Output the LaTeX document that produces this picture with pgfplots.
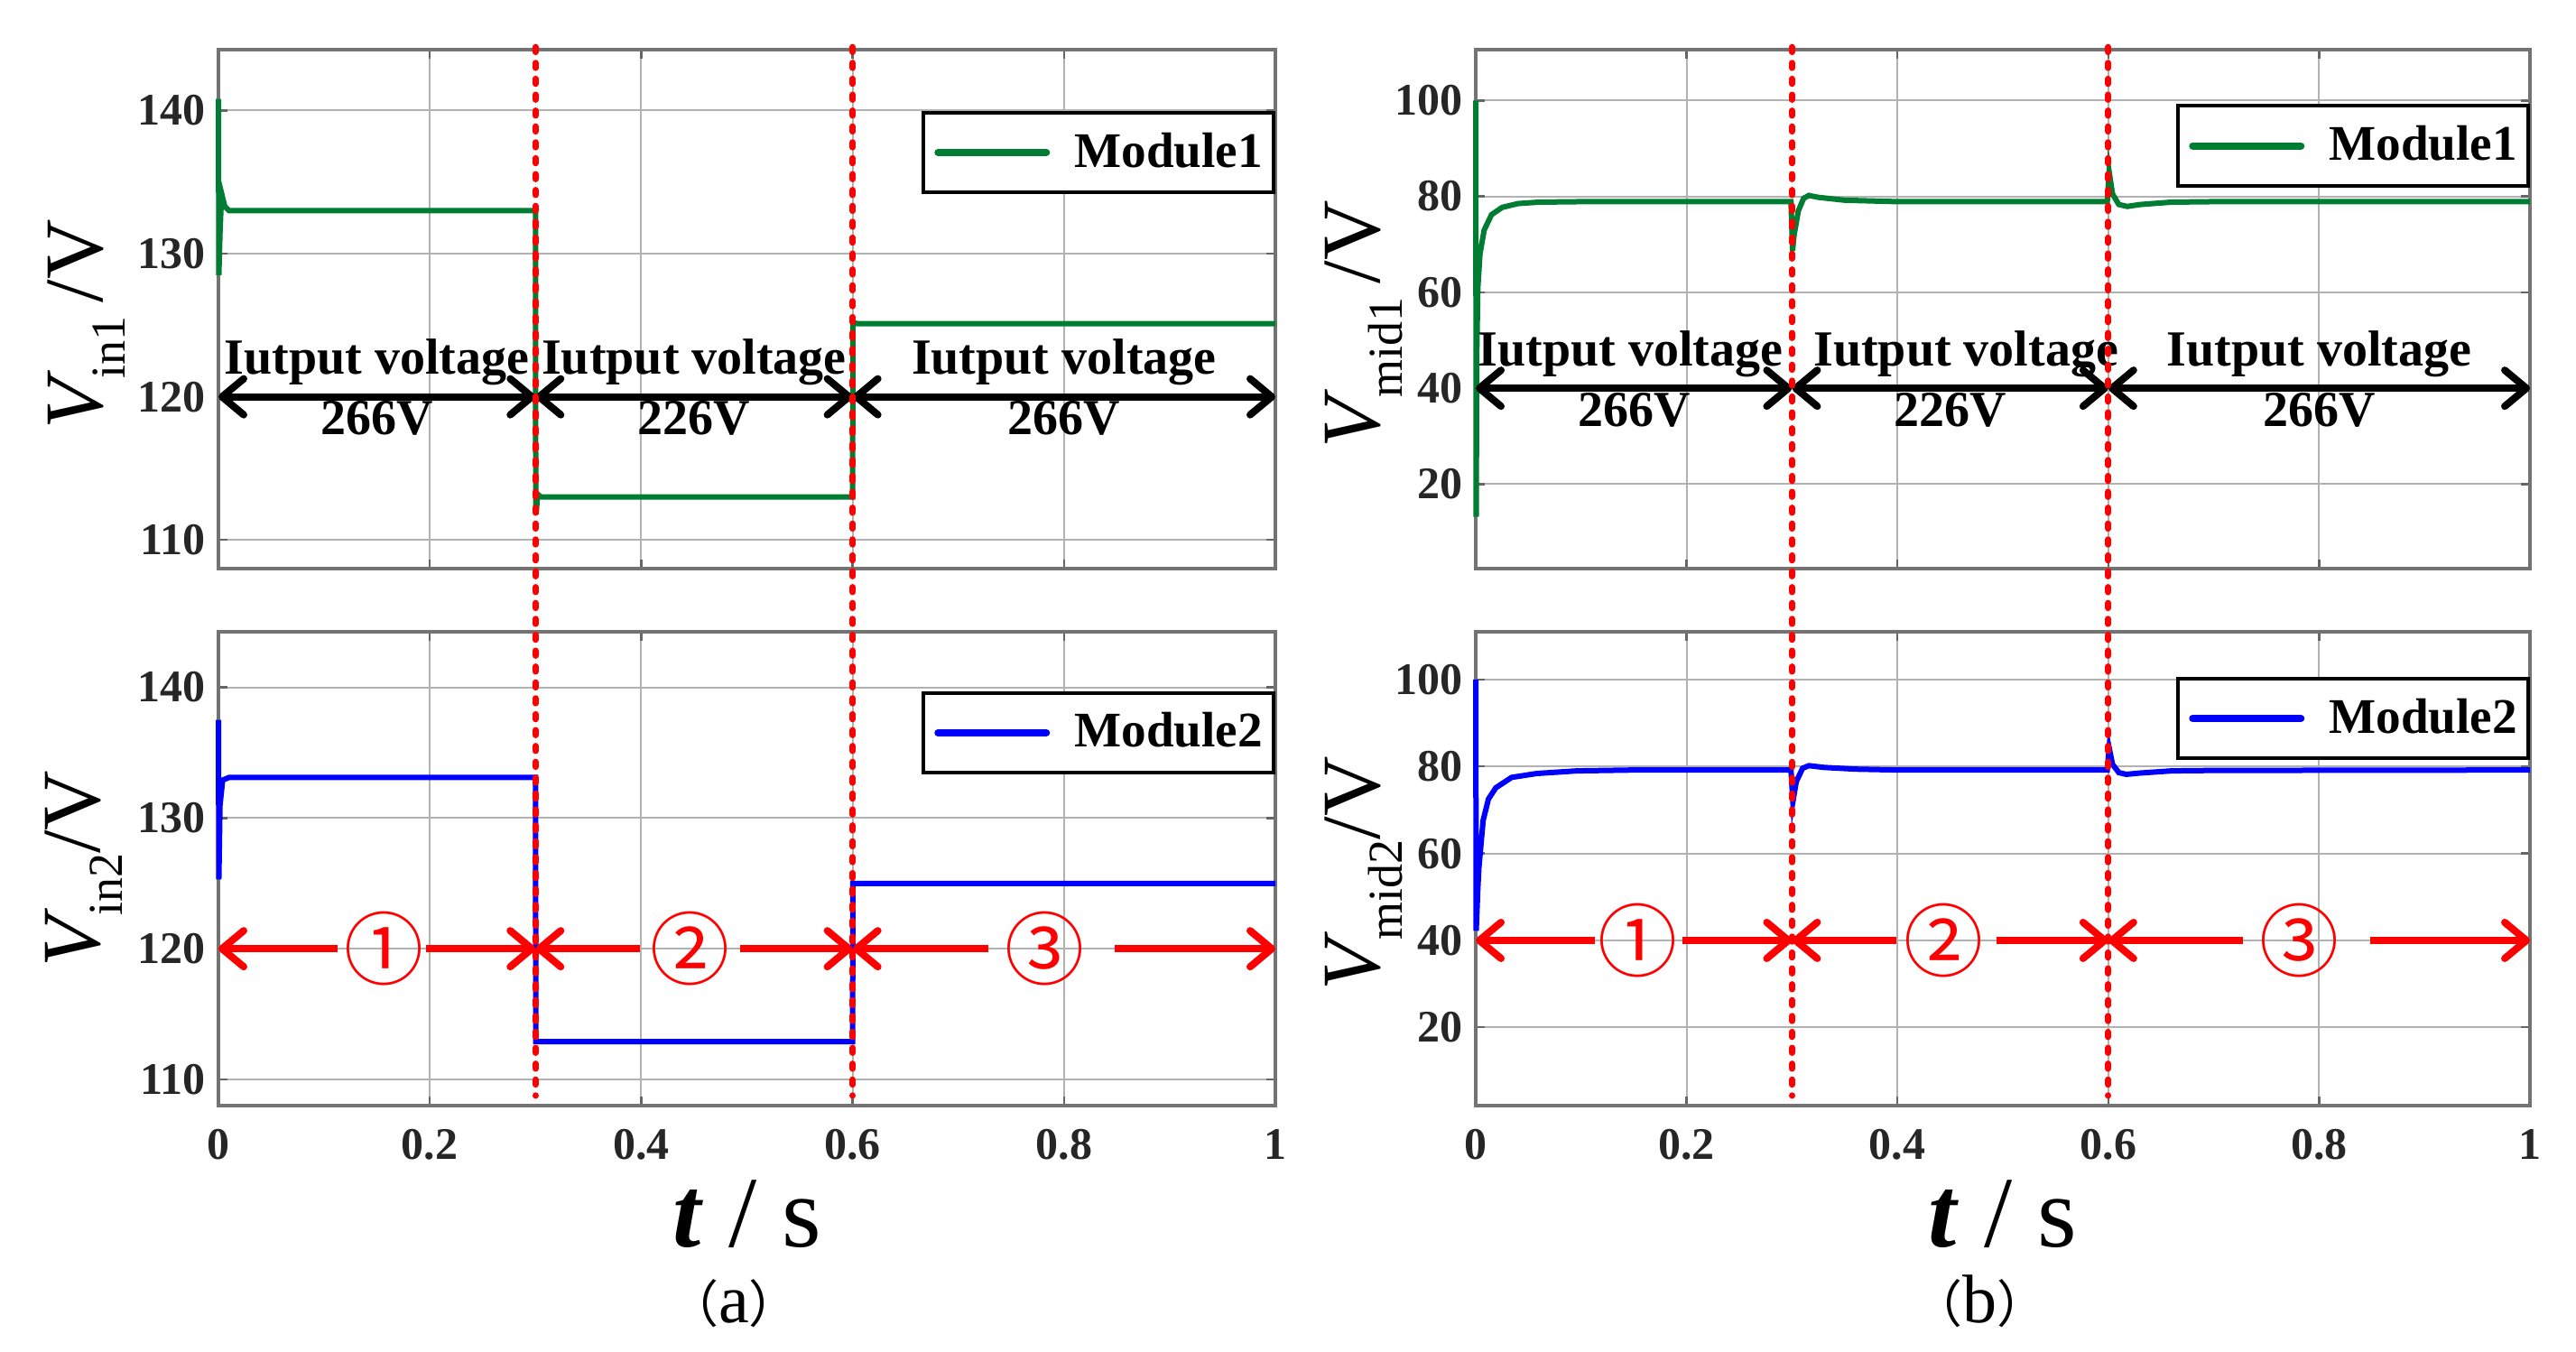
\documentclass[border=0pt]{standalone}
\usepackage{fontspec}
\setmainfont{Liberation Serif}
\newfontfamily\cjk{Noto Sans CJK SC}
\usepackage{pgfplots}
\pgfplotsset{compat=1.18}
\usetikzlibrary{arrows.meta}
\definecolor{mgreen}{RGB}{0,125,50}
\definecolor{mblue}{RGB}{0,0,255}
\newcommand\annot{\fontsize{14}{16}\selectfont\bfseries}
\newcommand\circfont{\cjk\fontsize{22}{22}\selectfont}
\tikzset{
  barb/.style={line width=2pt,{Straight Barb[length=6pt,width=10pt,round]}-{Straight Barb[length=6pt,width=10pt,round]}},
  lbarb/.style={line width=2pt,{Straight Barb[length=6pt,width=10pt,round]}-},
  rbarb/.style={line width=2pt,-{Straight Barb[length=6pt,width=10pt,round]}},
  sep/.style={red,line width=1.7pt,dash pattern=on 1.4pt off 3pt,line cap=round},
}
\pgfplotsset{
 panel/.style={
  scale only axis, clip=false,
  xmin=0, xmax=1,
  xtick={0,0.2,0.4,0.6,0.8,1},
  grid=major,
  major grid style={draw=black!30, line width=0.5pt},
  axis line style={draw=black!55, line width=0.8pt},
  every tick/.style={draw=black!60, line width=0.6pt},
  tick align=inside, major tick length=2.5pt,
  xtick pos=both, ytick pos=both,
  xticklabel pos=lower, yticklabel pos=left,
  /pgf/number format/assume math mode=true,
  tick label style={font=\fontsize{12.5}{14}\selectfont\bfseries, text=black!85},
  xticklabel style={yshift=-3pt},
  legend style={draw=black, line width=1pt, fill=white, inner xsep=3pt, inner ysep=5.5pt,
     anchor=north east, font=\fontsize{13.8}{15}\selectfont\bfseries,
     nodes={inner sep=0pt}, /tikz/every odd column/.append style={column sep=6.8pt}},
  legend image code/.code={\draw[line width=2pt, line cap=round] (0pt,0pt) -- (30pt,0pt);},
  ylabel style={font=\fontsize{23}{24}\selectfont, anchor=base},
  xlabel style={font=\fontsize{28}{30}\selectfont, at={(axis description cs:0.5,0)}, anchor=base, yshift=-39.25pt},
 }
}
\begin{document}
\begin{tikzpicture}
\path[use as bounding box] (0,0) rectangle (713.5pt,374.25pt);
% ---------- top left ----------
\begin{axis}[panel, at={(60.5pt,216.75pt)}, anchor=south west,
  width=292.75pt, height=143.75pt,
  ymin=108, ymax=144.25, ytick={110,120,130,140}, xticklabels={},
  ylabel={\itshape V\normalfont\raisebox{-0.28em}{\fontsize{13.5}{14}\selectfont in1}\,/V},
  ylabel style={at={(axis description cs:-0.110,0.47)}},
  legend style={at={(axis description cs:1,0.882)}}]
\addplot[mgreen, line width=1.5pt] coordinates {
(0,140.8) (0.0004,128.5) (0.0015,131.5) (0.003,134.2) (0.006,133.3) (0.01,133.0)
(0.3,133.0) (0.3002,112.5) (0.3006,111.8) (0.302,113.2) (0.305,113.0)
(0.6,113.0) (0.6003,125.2) (0.605,125.1) (1,125.1)};
\addlegendentry{Module1\hspace{7.7pt}}
\draw[barb] (axis cs:0,120) -- (axis cs:0.3,120);
\draw[barb] (axis cs:0.3,120) -- (axis cs:0.6,120);
\draw[barb] (axis cs:0.6,120) -- (axis cs:1,120);
\node[font=\annot, anchor=base, yshift=6.2pt] at (axis cs:0.15,120) {Iutput voltage};
\node[font=\annot, anchor=base, yshift=6.2pt] at (axis cs:0.45,120) {Iutput voltage};
\node[font=\annot, anchor=base, yshift=6.2pt] at (axis cs:0.8,120) {Iutput voltage};
\node[font=\annot, anchor=base, yshift=-10.5pt] at (axis cs:0.15,120) {266V};
\node[font=\annot, anchor=base, yshift=-10.5pt] at (axis cs:0.45,120) {226V};
\node[font=\annot, anchor=base, yshift=-10.5pt] at (axis cs:0.8,120) {266V};
\coordinate (p3t) at (axis description cs:0.3,1.005);
\coordinate (p6t) at (axis description cs:0.6,1.005);
\end{axis}
% ---------- bottom left ----------
\begin{axis}[panel, at={(60.5pt,68pt)}, anchor=south west,
  width=292.75pt, height=131.25pt,
  ymin=108, ymax=144.25, ytick={110,120,130,140},
  xlabel={\textbf{\textit{t}} / s},
  ylabel={\itshape V\normalfont\raisebox{-0.28em}{\fontsize{13.5}{14}\selectfont in2}/V},
  ylabel style={at={(axis description cs:-0.1127,0.5)}},
  legend style={at={(axis description cs:1,0.875)}}]
\addplot[mblue, line width=1.5pt] coordinates {
(0,137.5) (0.0004,125.3) (0.0015,131.0) (0.004,132.9) (0.01,133.1)
(0.3,133.1) (0.3003,112.9) (0.6,112.9) (0.6003,125.0) (1,125.0)};
\addlegendentry{Module2\hspace{7.7pt}}
\draw[red,lbarb] (axis cs:0,120) -- (axis cs:0.113,120);
\draw[red,rbarb] (axis cs:0.196,120) -- (axis cs:0.3,120);
\draw[red,lbarb] (axis cs:0.3,120) -- (axis cs:0.399,120);
\draw[red,rbarb] (axis cs:0.494,120) -- (axis cs:0.6,120);
\draw[red,lbarb] (axis cs:0.6,120) -- (axis cs:0.728,120);
\draw[red,rbarb] (axis cs:0.848,120) -- (axis cs:1,120);
\node[text=red, font=\circfont, inner sep=0pt] at (axis cs:0.157,120) {①};
\node[text=red, font=\circfont, inner sep=0pt] at (axis cs:0.446,120) {②};
\node[text=red, font=\circfont, inner sep=0pt] at (axis cs:0.782,120) {③};
\node[anchor=base, font=\fontsize{19}{20}\selectfont, yshift=-60pt] at (axis description cs:0.4876,0)
  {{\cjk\fontsize{14}{14}\selectfont （}a{\cjk\fontsize{14}{14}\selectfont ）}};
\coordinate (p3b) at (axis description cs:0.3,0.021);
\coordinate (p6b) at (axis description cs:0.6,0.021);
\end{axis}
% ---------- top right ----------
\begin{axis}[panel, at={(408.75pt,216.75pt)}, anchor=south west,
  width=292pt, height=143.75pt,
  ymin=2.4, ymax=110.6, ytick={20,40,60,80,100}, xticklabels={},
  ylabel={\itshape V\normalfont\raisebox{-0.28em}{\fontsize{13.5}{14}\selectfont mid1}\,/V},
  ylabel style={at={(axis description cs:-0.0916,0.47)}},
  legend style={at={(axis description cs:1,0.895)}}]
\addplot[mgreen, line width=1.5pt] coordinates {
(0,100) (0.0004,13.2) (0.001,48) (0.002,61) (0.004,68) (0.008,73) (0.015,76.2)
(0.025,77.7) (0.04,78.5) (0.06,78.8) (0.1,78.9) (0.299,78.9) (0.3005,68.7)
(0.302,72) (0.306,77) (0.311,79.6) (0.316,80.2) (0.325,79.8) (0.35,79.2) (0.4,78.9)
(0.599,78.9) (0.6008,85.1) (0.604,80.5) (0.61,78.3) (0.618,77.9) (0.63,78.3)
(0.66,78.8) (0.7,78.9) (1,78.9)};
\addlegendentry{Module1\hspace{7.7pt}}
\draw[barb] (axis cs:0,40) -- (axis cs:0.3,40);
\draw[barb] (axis cs:0.3,40) -- (axis cs:0.6,40);
\draw[barb] (axis cs:0.6,40) -- (axis cs:1,40);
\node[font=\annot, anchor=base, yshift=6.2pt] at (axis cs:0.147,40) {Iutput voltage};
\node[font=\annot, anchor=base, yshift=6.2pt] at (axis cs:0.465,40) {Iutput voltage};
\node[font=\annot, anchor=base, yshift=6.2pt] at (axis cs:0.8,40) {Iutput voltage};
\node[font=\annot, anchor=base, yshift=-10.5pt] at (axis cs:0.15,40) {266V};
\node[font=\annot, anchor=base, yshift=-10.5pt] at (axis cs:0.45,40) {226V};
\node[font=\annot, anchor=base, yshift=-10.5pt] at (axis cs:0.8,40) {266V};
\coordinate (q3t) at (axis description cs:0.3,1.005);
\coordinate (q6t) at (axis description cs:0.6,1.005);
\end{axis}
% ---------- bottom right ----------
\begin{axis}[panel, at={(408.75pt,68pt)}, anchor=south west,
  width=292pt, height=131.25pt,
  ymin=2, ymax=111, ytick={20,40,60,80,100},
  xlabel={\textbf{\textit{t}} / s},
  ylabel={\itshape V\normalfont\raisebox{-0.28em}{\fontsize{13.5}{14}\selectfont mid2}/V},
  ylabel style={at={(axis description cs:-0.0916,0.49)}},
  legend style={at={(axis description cs:1,0.905)}}]
\addplot[mblue, line width=1.5pt] coordinates {
(0,100) (0.0004,42.2) (0.002,52) (0.003,56.8) (0.007,67.6) (0.012,72.5) (0.019,75.1)
(0.034,77.5) (0.058,78.4) (0.096,79.0) (0.15,79.2) (0.299,79.2) (0.3008,71.9)
(0.304,76.5) (0.31,79.6) (0.316,80.2) (0.33,79.8) (0.36,79.4) (0.4,79.2)
(0.599,79.2) (0.6008,84.3) (0.604,80.5) (0.61,78.6) (0.617,78.2) (0.63,78.5)
(0.66,79.0) (0.7,79.1) (1,79.2)};
\addlegendentry{Module2\hspace{7.7pt}}
\draw[red,lbarb] (axis cs:0,40) -- (axis cs:0.113,40);
\draw[red,rbarb] (axis cs:0.196,40) -- (axis cs:0.3,40);
\draw[red,lbarb] (axis cs:0.3,40) -- (axis cs:0.399,40);
\draw[red,rbarb] (axis cs:0.494,40) -- (axis cs:0.6,40);
\draw[red,lbarb] (axis cs:0.6,40) -- (axis cs:0.728,40);
\draw[red,rbarb] (axis cs:0.848,40) -- (axis cs:1,40);
\node[text=red, font=\circfont, inner sep=0pt] at (axis cs:0.154,40) {①};
\node[text=red, font=\circfont, inner sep=0pt] at (axis cs:0.444,40) {②};
\node[text=red, font=\circfont, inner sep=0pt] at (axis cs:0.781,40) {③};
\node[anchor=base, font=\fontsize{19}{20}\selectfont, yshift=-60pt] at (axis description cs:0.4777,0)
  {{\cjk\fontsize{14}{14}\selectfont （}b{\cjk\fontsize{14}{14}\selectfont ）}};
\coordinate (q3b) at (axis description cs:0.3,0.021);
\coordinate (q6b) at (axis description cs:0.6,0.021);
\end{axis}
% ---------- red dashed separators ----------
\draw[sep] (p3t) -- (p3b);
\draw[sep] (p6t) -- (p6b);
\draw[sep] (q3t) -- (q3b);
\draw[sep] (q6t) -- (q6b);
\end{tikzpicture}
\end{document}
